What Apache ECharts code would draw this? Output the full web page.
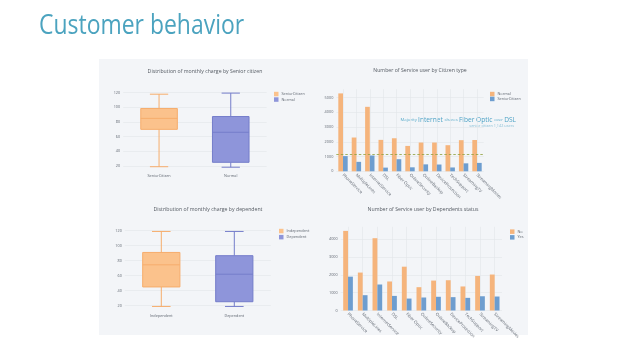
<!DOCTYPE html>
<html><head><meta charset="utf-8">
<script src="https://cdn.jsdelivr.net/npm/echarts@6/dist/echarts.min.js"></script>
<style>html,body{margin:0;padding:0;background:#fff}#c{width:638px;height:359px}</style>
</head><body><div id="c"></div>
<script>
// ---------- data ----------
const services = ['PhoneService','MultipleLines','InternetService','DSL','Fiber Optic','OnlineSecurity','OnlineBackup','DeviceProtection','TechSupport','StreamingTV','StreamingMovies'];
const citizenNormal = [5280, 2290, 4370, 2130, 2240, 1720, 1950, 1950, 1770, 2110, 2120];
const citizenSenior = [1030, 640, 1070, 250, 820, 270, 470, 460, 260, 540, 570];
const seniorTotal = 1142;
const dependentsNo = [4470, 2130, 4060, 1630, 2460, 1310, 1680, 1700, 1350, 1940, 2020];
const dependentsYes = [1900, 860, 1460, 820, 670, 730, 770, 750, 710, 800, 785];

const citizenBoxCats = ['SeniorCitizen', 'Normal'];
// min, Q1, median, Q3, max
const seniorBox = [19, 70, 85, 98.5, 118];
const normalBox = [18.3, 25, 66, 87.5, 119.5];
const dependentBoxCats = ['Independent', 'Dependent'];
const independentBox = [19, 45, 74.5, 91, 119];
const dependentBox = [19, 25.3, 62, 86.7, 119];

const chargeTicks = [20, 40, 60, 80, 100, 120];
const citizenTicks = [0, 1000, 2000, 3000, 4000, 5000];
const dependentsTicks = [0, 1000, 2000, 3000, 4000];

// ---------- style ----------
const FONT = 'Open Sans';
const GRIDC = '#e2e5ea';
const TXT = '#5f6670';
const ORANGE_BAR = '#f5b47c', BLUE_BAR = '#6d9dcf';
const ORANGE_FILL = '#fbc28c', ORANGE_LINE = '#f6ad6c';
const BLUE_FILL = '#8e95da', BLUE_LINE = '#747dca';

function boxRenderer(fill, stroke) {
  return function (params, api) {
    const x = api.value(0);
    const band = api.size([1, 0])[0];
    const w = band * 0.51, cw = w * 0.5;
    const pMin = api.coord([x, api.value(1)]);
    const pQ1 = api.coord([x, api.value(2)]);
    const pMed = api.coord([x, api.value(3)]);
    const pQ3 = api.coord([x, api.value(4)]);
    const pMax = api.coord([x, api.value(5)]);
    const cx = pMed[0];
    const ls = { stroke: stroke, lineWidth: 1 };
    return { type: 'group', children: [
      { type: 'line', shape: { x1: cx, y1: pMax[1], x2: cx, y2: pQ3[1] }, style: ls },
      { type: 'line', shape: { x1: cx, y1: pQ1[1], x2: cx, y2: pMin[1] }, style: ls },
      { type: 'line', shape: { x1: cx - cw / 2, y1: pMax[1], x2: cx + cw / 2, y2: pMax[1] }, style: ls },
      { type: 'line', shape: { x1: cx - cw / 2, y1: pMin[1], x2: cx + cw / 2, y2: pMin[1] }, style: ls },
      { type: 'rect', shape: { x: cx - w / 2, y: pQ3[1], width: w, height: pQ1[1] - pQ3[1] }, style: { fill: fill, stroke: stroke, lineWidth: 1 } },
      { type: 'line', shape: { x1: cx - w / 2, y1: pMed[1], x2: cx + w / 2, y2: pMed[1] }, style: ls }
    ]};
  };
}

function catAxis(gi, cats, rotate) {
  return {
    type: 'category', gridIndex: gi, data: cats,
    axisLine: { show: false }, axisTick: { show: false },
    axisLabel: { interval: 0, rotate: rotate, fontSize: rotate ? 4.2 : 3.8, color: TXT, fontFamily: FONT, margin: 3 },
    splitLine: { show: !!rotate, alignWithLabel: true, lineStyle: { color: GRIDC, width: 0.6 } }
  };
}
function valAxis(gi, min, max, ticks) {
  return {
    type: 'value', gridIndex: gi, min: min, max: max,
    axisLine: { show: false },
    axisTick: { show: false, customValues: ticks },
    axisLabel: { customValues: ticks, formatter: v => String(v), fontSize: 3.8, color: TXT, fontFamily: FONT, margin: 3 },
    splitLine: { show: true, lineStyle: { color: GRIDC, width: 0.6 } }
  };
}
function legend(x, y, names, gap) {
  return {
    orient: 'vertical', left: x, top: y, padding: 0, itemGap: gap,
    itemWidth: 4.5, itemHeight: 4.5, icon: 'rect', selectedMode: false,
    data: names,
    textStyle: { fontSize: 3.8, color: TXT, fontFamily: FONT, padding: [0, 0, 0, -2] }
  };
}
function subTitle(x, y, text) {
  return { type: 'text', x: x, y: y, style: { text: text, align: 'center', verticalAlign: 'middle', fontSize: 5.2, fontFamily: FONT, fill: '#555b63' } };
}

const chart = echarts.init(document.getElementById('c'), null, { renderer: 'canvas' });
chart.setOption({
  animation: false,
  backgroundColor: '#ffffff',
  textStyle: { fontFamily: FONT },
  graphic: [
    { type: 'rect', z: -10, shape: { x: 99, y: 59, width: 429, height: 276 }, style: { fill: '#f3f5f8' } },
    { type: 'text', x: 39, y: 26.5, scaleX: 0.85, style: { text: 'Customer behavior', fontSize: 27, fontFamily: 'Open Sans', fill: '#4ba3bf', verticalAlign: 'middle' } },
    subTitle(205, 72, 'Distribution of monthly charge by Senior citizen'),
    subTitle(420, 71, 'Number of Service user by Citizen type'),
    subTitle(208, 210, 'Distribution of monthly charge by dependent'),
    subTitle(423, 210, 'Number of Service user by Dependents status'),
    { type: 'text', x: 516, y: 120, style: {
        text: '{s|Majority }{b|Internet }{s|shares }{b|Fiber Optic }{s|over }{b|DSL}',
        align: 'right', verticalAlign: 'middle',
        rich: { s: { fontSize: 4.3, fill: '#5aaccb', fontFamily: FONT }, b: { fontSize: 6.6, fill: '#4fa3c6', fontFamily: FONT } } } },
    { type: 'text', x: 514, y: 125.6, style: { text: 'senior citizen 1,142 users', align: 'right', verticalAlign: 'middle', fontSize: 3.8, fontFamily: FONT, fill: '#86bfd6' } }
  ],
  grid: [
    { left: 123.2, top: 89.8, width: 143.4, height: 81.3 },
    { left: 336.3, top: 89.2, width: 147.4, height: 82.1 },
    { left: 124.8, top: 227.7, width: 146, height: 83.25 },
    { left: 340.7, top: 226.8, width: 161.3, height: 83.7 }
  ],
  xAxis: [
    catAxis(0, citizenBoxCats, 0),
    catAxis(1, services, -45),
    catAxis(2, dependentBoxCats, 0),
    catAxis(3, services, -45)
  ],
  yAxis: [
    valAxis(0, 13, 124, chargeTicks),
    valAxis(1, 0, 5565, citizenTicks),
    valAxis(2, 13, 124, chargeTicks),
    valAxis(3, 0, 4700, dependentsTicks)
  ],
  legend: [
    legend(274, 91.8, ['SeniorCitizen', 'Normal'], 1),
    legend(490, 91.8, ['Normal ', 'SeniorCitizen '], 0.4),
    legend(279, 228.8, ['Independent', 'Dependent'], 1.6),
    legend(510, 229.4, ['No', 'Yes'], 1.2)
  ],
  series: [
    { name: 'SeniorCitizen', type: 'custom', xAxisIndex: 0, yAxisIndex: 0, renderItem: boxRenderer(ORANGE_FILL, ORANGE_LINE),
      itemStyle: { color: ORANGE_FILL, borderColor: ORANGE_LINE }, encode: { x: 0, y: [1, 2, 3, 4, 5] },
      data: [[0].concat(seniorBox)] },
    { name: 'Normal', type: 'custom', xAxisIndex: 0, yAxisIndex: 0, renderItem: boxRenderer(BLUE_FILL, BLUE_LINE),
      itemStyle: { color: BLUE_FILL, borderColor: BLUE_LINE }, encode: { x: 0, y: [1, 2, 3, 4, 5] },
      data: [[1].concat(normalBox)] },
    { name: 'Independent', type: 'custom', xAxisIndex: 2, yAxisIndex: 2, renderItem: boxRenderer(ORANGE_FILL, ORANGE_LINE),
      itemStyle: { color: ORANGE_FILL, borderColor: ORANGE_LINE }, encode: { x: 0, y: [1, 2, 3, 4, 5] },
      data: [[0].concat(independentBox)] },
    { name: 'Dependent', type: 'custom', xAxisIndex: 2, yAxisIndex: 2, renderItem: boxRenderer(BLUE_FILL, BLUE_LINE),
      itemStyle: { color: BLUE_FILL, borderColor: BLUE_LINE }, encode: { x: 0, y: [1, 2, 3, 4, 5] },
      data: [[1].concat(dependentBox)] },
    { name: 'Normal ', type: 'bar', xAxisIndex: 1, yAxisIndex: 1, data: citizenNormal, itemStyle: { color: ORANGE_BAR }, barGap: '0%', barCategoryGap: '30%' },
    { name: 'SeniorCitizen ', type: 'bar', xAxisIndex: 1, yAxisIndex: 1, data: citizenSenior, itemStyle: { color: BLUE_BAR }, barGap: '0%', barCategoryGap: '30%',
      markLine: { silent: true, symbol: 'none', label: { show: false }, lineStyle: { type: [2.5, 2], color: '#8f9f3a', width: 0.8 }, data: [{ yAxis: seniorTotal }] } },
    { name: 'No', type: 'bar', xAxisIndex: 3, yAxisIndex: 3, data: dependentsNo, itemStyle: { color: ORANGE_BAR }, barGap: '0%', barCategoryGap: '34%' },
    { name: 'Yes', type: 'bar', xAxisIndex: 3, yAxisIndex: 3, data: dependentsYes, itemStyle: { color: BLUE_BAR }, barGap: '0%', barCategoryGap: '34%' }
  ]
});
</script>
</body></html>
